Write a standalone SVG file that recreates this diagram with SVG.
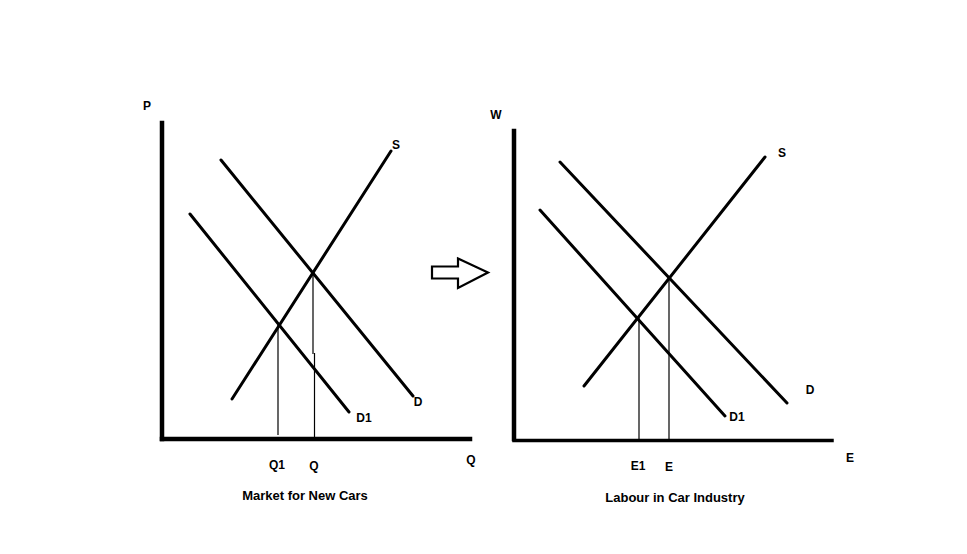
<svg xmlns="http://www.w3.org/2000/svg" width="967" height="554" viewBox="0 0 967 554">
<style>
.bg{fill:#ffffff}
.axis{stroke:#000;stroke-width:4.5;fill:none;stroke-linecap:square}
.curve{stroke:#000;stroke-width:3;fill:none;stroke-linecap:round}
.guide{stroke:#000;stroke-width:1.2;fill:none}
.lbl{font-family:"Liberation Sans",Arial,sans-serif;font-size:12px;font-weight:bold;fill:#000;text-anchor:middle}
.ttl{font-family:"Liberation Sans",Arial,sans-serif;font-size:13px;font-weight:bold;fill:#000;text-anchor:middle}
.arrow{fill:#fff;stroke:#000;stroke-width:2.2;stroke-linejoin:miter}
</style>
<rect class="bg" x="0" y="0" width="967" height="554"/>
<g id="left-chart">
  <g id="left-axes">
    <line class="axis" x1="162" y1="123" x2="162" y2="439"/>
    <line class="axis" x1="162" y1="439" x2="470" y2="439"/>
  </g>
  <g id="left-curves">
    <line id="left-S" class="curve" x1="232" y1="399" x2="391" y2="151"/>
    <line id="left-D" class="curve" x1="221" y1="160" x2="413" y2="396"/>
    <line id="left-D1" class="curve" x1="190" y1="214" x2="349" y2="412"/>
  </g>
  <g id="left-guides">
    <line class="guide" x1="313" y1="272" x2="313" y2="354"/>
    <line class="guide" x1="314.5" y1="353" x2="314.5" y2="439"/>
    <line class="guide" x1="278" y1="325" x2="278" y2="435"/>
  </g>
  <g id="left-labels">
    <text class="lbl" x="147" y="110">P</text>
    <text class="lbl" x="396" y="149">S</text>
    <text class="lbl" x="418" y="406">D</text>
    <text class="lbl" x="364" y="422">D1</text>
    <text class="lbl" x="277" y="469">Q1</text>
    <text class="lbl" x="314" y="470">Q</text>
    <text class="lbl" x="471" y="464">Q</text>
    <text class="ttl" x="305" y="500">Market for New Cars</text>
  </g>
</g>
<g id="shift-arrow">
  <polygon class="arrow" points="432,266.5 458,266.5 458,258.5 488,272.5 458,288 458,278.5 432,278.5"/>
</g>
<g id="right-chart">
  <g id="right-axes">
    <line class="axis" x1="514" y1="131" x2="514" y2="439"/>
    <line class="axis" style="stroke-width:3.5" x1="514" y1="440.5" x2="832" y2="440.5"/>
  </g>
  <g id="right-curves">
    <line id="right-S" class="curve" x1="584" y1="386" x2="765" y2="157"/>
    <line id="right-D" class="curve" x1="560" y1="162" x2="787" y2="403"/>
    <line id="right-D1" class="curve" x1="540" y1="210" x2="725" y2="416"/>
  </g>
  <g id="right-guides">
    <line class="guide" x1="669" y1="278" x2="669" y2="440"/>
    <line class="guide" x1="639" y1="318" x2="639" y2="440"/>
  </g>
  <g id="right-labels">
    <text class="lbl" x="496" y="119">W</text>
    <text class="lbl" x="782" y="157">S</text>
    <text class="lbl" x="810" y="394">D</text>
    <text class="lbl" x="737" y="421">D1</text>
    <text class="lbl" x="638" y="470">E1</text>
    <text class="lbl" x="669" y="471">E</text>
    <text class="lbl" x="850" y="462">E</text>
    <text class="ttl" x="675" y="502">Labour in Car Industry</text>
  </g>
</g>
</svg>
